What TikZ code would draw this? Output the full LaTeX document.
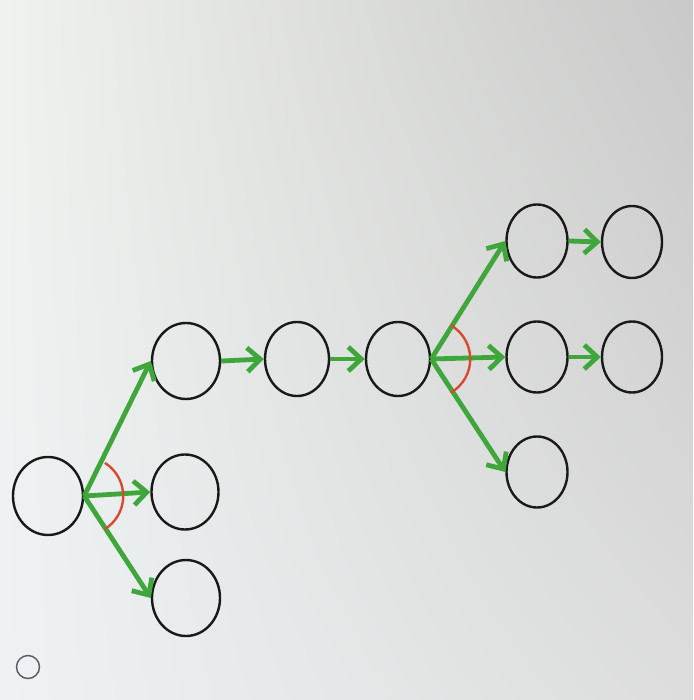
\documentclass[tikz,border=0pt]{standalone}
\usetikzlibrary{arrows.meta,shapes.geometric,shadings}
\definecolor{arrgreen}{RGB}{62,166,58}
\definecolor{arcred}{RGB}{218,72,48}
\definecolor{bgul}{RGB}{240,242,238}
\definecolor{bgur}{RGB}{200,201,200}
\definecolor{bgll}{RGB}{238,242,244}
\definecolor{bglr}{RGB}{220,221,220}
\begin{document}
\begin{tikzpicture}[x=1pt,y=-1pt,
  st/.style={draw=black!90,line width=2.4pt,ellipse,minimum width=64pt,minimum height=74pt,inner sep=0pt},
  arr/.style={draw=arrgreen,line width=4.8pt,-{Straight Barb[length=13pt,width=24pt]}},
  andarc/.style={draw=arcred,line width=2.4pt}]
\shade[upper left=bgul,upper right=bgur,lower left=bgll,lower right=bglr]
  (0,0) rectangle (693,700);
\useasboundingbox (0,0) rectangle (693,700);
\node[st,minimum width=70pt,minimum height=78pt] (A) at (48,496) {};
\node[st,minimum width=68pt,minimum height=76pt] (B) at (186,361) {};
\node[st,minimum width=67pt,minimum height=75pt] (C) at (185,492) {};
\node[st,minimum width=68pt,minimum height=76pt] (D) at (186,598) {};
\node[st] (E) at (297,359) {};
\node[st] (F) at (398,359) {};
\node[st,minimum width=61pt,minimum height=73pt] (G) at (537,241) {};
\node[st,minimum width=60pt,minimum height=72pt] (H) at (632,242) {};
\node[st,minimum width=61pt,minimum height=71pt] (I) at (537,357) {};
\node[st,minimum width=60pt,minimum height=71pt] (J) at (632,357) {};
\node[st,minimum width=61pt,minimum height=71pt] (K) at (537,472) {};
\node[draw=black!65,line width=1.4pt,circle,minimum size=23pt,inner sep=0pt] (R) at (28,667) {};
\draw[arr] (A.east) -- (B.west);
\draw[arr] (A.east) -- (C.west);
\draw[arr] (A.east) -- (D.west);
\draw[arr] (B.east) -- (E.west);
\draw[arr] (E.east) -- (F.west);
\draw[arr] (F.east) -- (G.west);
\draw[arr] (F.east) -- (I.west);
\draw[arr] (F.east) -- (K.west);
\draw[arr] (G.east) -- (H.west);
\draw[arr] (I.east) -- (J.west);
\draw[andarc] (A.east) ++(58:39pt) arc[start angle=58,end angle=-58,radius=39pt];
\draw[andarc] (F.east) ++(60:39pt) arc[start angle=60,end angle=-60,radius=39pt];
\end{tikzpicture}
\end{document}
